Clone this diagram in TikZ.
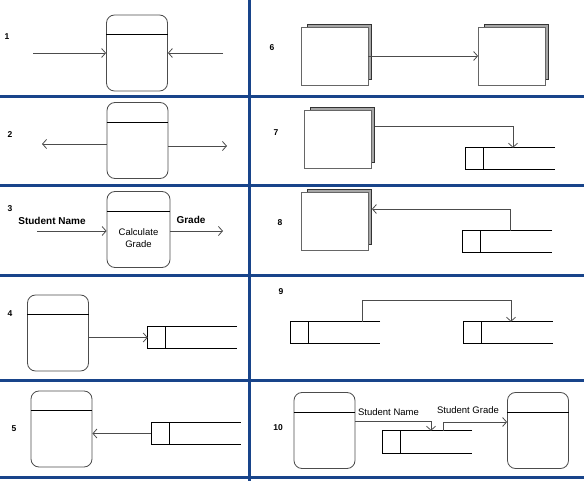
\documentclass[tikz,border=0pt]{standalone}
\usepackage{fontspec}
\setmainfont{Liberation Sans}
\usetikzlibrary{arrows.meta}
\usetikzlibrary{positioning}
\definecolor{rahmenblau}{RGB}{24,68,138}

\begin{document}
\begin{tikzpicture}[x=1pt, y=-1pt, % Pixel-Koordinaten, y nach unten
  linie/.style={draw=black!70, line width=0.8pt},
  pfeil/.style={linie, -{Straight Barb[length=4pt,width=9pt]}},
  proz/.style={linie, rounded corners=8pt, minimum width=61pt, minimum height=76pt, inner sep=0pt},
  ent/.style={draw=black!60, fill=white, line width=0.8pt, minimum width=67pt, minimum height=58pt, inner sep=0pt},
  entb/.style={draw=black!80, fill=black!35, line width=0.8pt, minimum width=64pt, minimum height=55pt, inner sep=0pt},
  speicher/.style={minimum width=89pt, minimum height=21pt, inner sep=0pt},
  nummer/.style={font=\fontsize{8.5}{10}\selectfont\bfseries},
  beschr/.style={font=\fontsize{9.5}{11.5}\selectfont},
  fett/.style={font=\fontsize{10}{12}\selectfont\bfseries}]

\useasboundingbox (0,0) rectangle (584,481);

% Rahmen
\foreach \y in {97, 186, 276, 380, 477} {
  \draw[rahmenblau, line width=3pt] (0,\y) -- (584,\y); % Trennlinien
}
\draw[rahmenblau, line width=3pt] (249.5,0) -- (249.5,481); % Mittellinie

% Nummern
\foreach \n/\x/\y in {1/7/37, 2/10/135, 3/10/209, 4/10/314, 5/14/429, 6/272/48, 7/276/133, 8/280/223, 9/281/292, 10/278/428} {
  \node[nummer] (n\n) at (\x,\y) {\n};
}

% Prozesse
\node[proz] (p1) at (137,53) {};
\node[proz] (p2) at (137.5,140.5) {};
\node[proz, minimum width=63pt] (p3) at (138.5,229.5) {};
\node[proz] (p4) at (58,333) {};
\node[proz] (p5) at (61.5,429) {};
\node[proz] (p10a) at (324.5,430.5) {};
\node[proz] (p10b) at (538,430.5) {};
\foreach \p in {p1, p2, p3, p4, p5, p10a, p10b} {
  \draw[line width=0.8pt] ([yshift=-20pt]\p.north west) -- ([yshift=-20pt]\p.north east); % Kopfzeile
}
\node[beschr, align=center] (t3) at (138.5,238) {Calculate\\Grade};

% Externe Einheiten (mit Schatten)
\foreach \e/\x/\y in {e6a/334.5/56, e6b/512/56, e7/338/139.5, e8/335/221.5} {
  \node[entb] (\e b) at (\x+4.5,\y-4.5) {};
  \node[ent] (\e) at (\x,\y) {};
}

% Datenspeicher
\node[speicher] (d4) at (192.5,337.5) {};
\node[speicher] (d5) at (196,433.5) {};
\node[speicher] (d7) at (510.5,158.5) {};
\node[speicher] (d8) at (507.5,241.5) {};
\node[speicher] (d9a) at (335.5,332.5) {};
\node[speicher] (d9b) at (508,332.5) {};
\node[speicher, minimum height=22pt] (d10) at (427.5,442) {};
\foreach \d in {d4, d5, d7, d8, d9a, d9b, d10} {
  \draw[line width=0.8pt] (\d.north east) -- (\d.north west) -- (\d.south west) -- (\d.south east);
  \draw[line width=0.8pt] ([xshift=18pt]\d.north west) -- ([xshift=18pt]\d.south west); % Trennstrich
}

% Hilfspunkte
\coordinate (a1) at (33,53);
\coordinate (b1) at (223,53);
\coordinate (a2) at (42,144);
\coordinate (b2) at (227,146);
\coordinate (a3) at (37,231);
\coordinate (b3) at (223,231);
\coordinate (k7) at (513,126);
\coordinate (k8) at (510,209);
\coordinate (k9a) at (362,300);
\coordinate (k9b) at (511,300);
\coordinate (k10a) at (431,421);
\coordinate (k10b) at (443,422);

% Datenfluesse
\draw[pfeil] (a1) -- (p1.west);
\draw[pfeil] (b1) -- (p1.east);
\draw[pfeil] (p2.west |- a2) -- (a2);
\draw[pfeil] (p2.east |- b2) -- (b2);
\draw[pfeil] (a3) -- (p3.west |- a3);
\draw[pfeil] (p3.east |- b3) -- (b3);
\draw[pfeil] (p4.east |- d4.west) -- (d4.west);
\draw[pfeil] (d5.west) -- (p5.east |- d5.west);
\draw[pfeil] (e6a.east) -- (e6b.west);
\draw[pfeil] (e7b.east |- k7) -| (d7.north -| k7);
\draw[pfeil] (d8.north -| k8) |- (e8b.east |- k8);
\draw[pfeil] (d9a.north -| k9a) -- (k9a) -- (k9b) -- (d9b.north -| k9b);
\draw[pfeil] (p10a.east |- k10a) -| (d10.north -| k10a);
\draw[pfeil] (d10.north -| k10b) |- (p10b.west |- k10b);

% Beschriftungen
\node[fett] (l3a) at (52,221) {Student Name};
\node[fett] (l3b) at (191,220) {Grade};
\node[beschr] (l10a) at (388.5,412) {Student Name};
\node[beschr] (l10b) at (468,410) {Student Grade};

\end{tikzpicture}
\end{document}
